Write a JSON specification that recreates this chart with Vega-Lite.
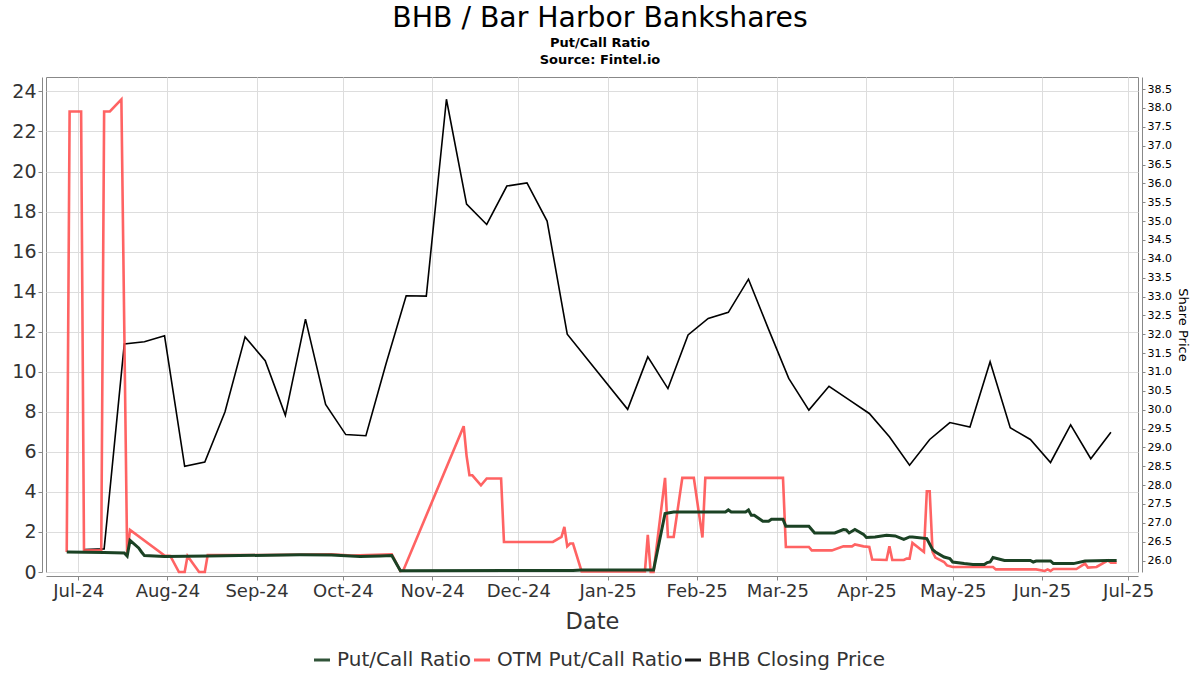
{
  "$schema": "https://vega.github.io/schema/vega-lite/v6.json",
  "width": 1092,
  "height": 495,
  "autosize": {"type": "none"},
  "padding": {"left": 46, "top": 77, "right": 62, "bottom": 103},
  "title": {
    "text": "BHB / Bar Harbor Bankshares",
    "subtitle": ["Put/Call Ratio", "Source: Fintel.io"],
    "fontSize": 28.3,
    "fontWeight": "normal",
    "color": "#000000",
    "subtitleFontSize": 13,
    "subtitleFontWeight": "bold",
    "subtitleColor": "#000000",
    "subtitleLineHeight": 16.5,
    "subtitlePadding": 4,
    "anchor": "middle",
    "dx": 8,
    "offset": 9
  },
  "datasets": {
    "price": [
      {"d": "2024-07-03", "v": 26.29}, {"d": "2024-07-10", "v": 26.31},
      {"d": "2024-07-17", "v": 31.74}, {"d": "2024-07-24", "v": 31.80},
      {"d": "2024-07-31", "v": 31.96}, {"d": "2024-08-07", "v": 28.50},
      {"d": "2024-08-14", "v": 28.61}, {"d": "2024-08-21", "v": 29.94},
      {"d": "2024-08-28", "v": 31.93}, {"d": "2024-09-04", "v": 31.30},
      {"d": "2024-09-11", "v": 29.85}, {"d": "2024-09-18", "v": 32.40},
      {"d": "2024-09-25", "v": 30.14}, {"d": "2024-10-02", "v": 29.34},
      {"d": "2024-10-09", "v": 29.31}, {"d": "2024-10-16", "v": 31.22},
      {"d": "2024-10-23", "v": 33.02}, {"d": "2024-10-30", "v": 33.01},
      {"d": "2024-11-06", "v": 38.23}, {"d": "2024-11-13", "v": 35.45},
      {"d": "2024-11-20", "v": 34.91}, {"d": "2024-11-27", "v": 35.93},
      {"d": "2024-12-04", "v": 36.01}, {"d": "2024-12-11", "v": 35.00},
      {"d": "2024-12-18", "v": 32.00}, {"d": "2025-01-08", "v": 30.01},
      {"d": "2025-01-15", "v": 31.40}, {"d": "2025-01-22", "v": 30.56},
      {"d": "2025-01-29", "v": 31.98}, {"d": "2025-02-05", "v": 32.42},
      {"d": "2025-02-12", "v": 32.58}, {"d": "2025-02-19", "v": 33.46},
      {"d": "2025-02-26", "v": 32.13}, {"d": "2025-03-05", "v": 30.83},
      {"d": "2025-03-12", "v": 29.99}, {"d": "2025-03-19", "v": 30.62},
      {"d": "2025-03-26", "v": 30.26}, {"d": "2025-04-02", "v": 29.90},
      {"d": "2025-04-09", "v": 29.28}, {"d": "2025-04-16", "v": 28.53},
      {"d": "2025-04-23", "v": 29.21}, {"d": "2025-04-30", "v": 29.66},
      {"d": "2025-05-07", "v": 29.54}, {"d": "2025-05-14", "v": 31.27},
      {"d": "2025-05-21", "v": 29.52}, {"d": "2025-05-28", "v": 29.21},
      {"d": "2025-06-04", "v": 28.60}, {"d": "2025-06-11", "v": 29.60},
      {"d": "2025-06-18", "v": 28.70}, {"d": "2025-06-25", "v": 29.40}
    ],
    "otm": [
      {"d": "2024-06-27", "v": 1.0}, {"d": "2024-06-28", "v": 23.0},
      {"d": "2024-07-01", "v": 23.0}, {"d": "2024-07-02", "v": 23.0},
      {"d": "2024-07-03", "v": 1.08}, {"d": "2024-07-05", "v": 1.08},
      {"d": "2024-07-08", "v": 1.08}, {"d": "2024-07-09", "v": 1.08},
      {"d": "2024-07-10", "v": 23.0}, {"d": "2024-07-11", "v": 23.0},
      {"d": "2024-07-12", "v": 23.0}, {"d": "2024-07-15", "v": 23.45},
      {"d": "2024-07-16", "v": 23.6}, {"d": "2024-07-18", "v": 0.85},
      {"d": "2024-07-19", "v": 2.1}, {"d": "2024-07-31", "v": 0.82},
      {"d": "2024-08-02", "v": 0.8}, {"d": "2024-08-05", "v": 0.0},
      {"d": "2024-08-07", "v": 0.0}, {"d": "2024-08-08", "v": 0.8},
      {"d": "2024-08-12", "v": 0.0}, {"d": "2024-08-14", "v": 0.0},
      {"d": "2024-08-15", "v": 0.85}, {"d": "2024-09-03", "v": 0.85},
      {"d": "2024-09-27", "v": 0.88}, {"d": "2024-10-04", "v": 0.82},
      {"d": "2024-10-18", "v": 0.88}, {"d": "2024-10-21", "v": 0.05},
      {"d": "2024-10-22", "v": 0.08}, {"d": "2024-11-12", "v": 7.28},
      {"d": "2024-11-13", "v": 5.8}, {"d": "2024-11-14", "v": 4.83},
      {"d": "2024-11-15", "v": 4.83}, {"d": "2024-11-18", "v": 4.33},
      {"d": "2024-11-20", "v": 4.67}, {"d": "2024-11-25", "v": 4.67},
      {"d": "2024-11-26", "v": 1.5}, {"d": "2024-12-13", "v": 1.5},
      {"d": "2024-12-16", "v": 1.75}, {"d": "2024-12-17", "v": 2.25},
      {"d": "2024-12-18", "v": 1.28}, {"d": "2024-12-19", "v": 1.42},
      {"d": "2024-12-20", "v": 1.42}, {"d": "2024-12-23", "v": 0.03},
      {"d": "2025-01-14", "v": 0.03}, {"d": "2025-01-15", "v": 1.85},
      {"d": "2025-01-16", "v": 0.0}, {"d": "2025-01-17", "v": 0.0},
      {"d": "2025-01-21", "v": 4.7}, {"d": "2025-01-22", "v": 1.75},
      {"d": "2025-01-24", "v": 1.75}, {"d": "2025-01-27", "v": 4.7},
      {"d": "2025-01-31", "v": 4.7}, {"d": "2025-02-03", "v": 1.72},
      {"d": "2025-02-04", "v": 4.7}, {"d": "2025-03-03", "v": 4.7},
      {"d": "2025-03-04", "v": 1.25}, {"d": "2025-03-12", "v": 1.25},
      {"d": "2025-03-13", "v": 1.08}, {"d": "2025-03-20", "v": 1.08},
      {"d": "2025-03-24", "v": 1.28}, {"d": "2025-03-27", "v": 1.28},
      {"d": "2025-03-28", "v": 1.38}, {"d": "2025-03-31", "v": 1.28},
      {"d": "2025-04-02", "v": 1.25}, {"d": "2025-04-03", "v": 0.62},
      {"d": "2025-04-08", "v": 0.6}, {"d": "2025-04-09", "v": 1.28},
      {"d": "2025-04-10", "v": 0.6}, {"d": "2025-04-14", "v": 0.6},
      {"d": "2025-04-15", "v": 0.67}, {"d": "2025-04-16", "v": 0.67},
      {"d": "2025-04-17", "v": 1.45}, {"d": "2025-04-21", "v": 1.0},
      {"d": "2025-04-22", "v": 4.03}, {"d": "2025-04-23", "v": 4.03},
      {"d": "2025-04-24", "v": 1.0}, {"d": "2025-04-25", "v": 0.72},
      {"d": "2025-04-28", "v": 0.5}, {"d": "2025-04-29", "v": 0.33},
      {"d": "2025-05-01", "v": 0.25}, {"d": "2025-05-15", "v": 0.25},
      {"d": "2025-05-16", "v": 0.13}, {"d": "2025-05-30", "v": 0.13},
      {"d": "2025-06-02", "v": 0.05}, {"d": "2025-06-03", "v": 0.13},
      {"d": "2025-06-04", "v": 0.05}, {"d": "2025-06-05", "v": 0.15},
      {"d": "2025-06-13", "v": 0.15}, {"d": "2025-06-16", "v": 0.42},
      {"d": "2025-06-17", "v": 0.22}, {"d": "2025-06-20", "v": 0.25},
      {"d": "2025-06-24", "v": 0.58}, {"d": "2025-06-25", "v": 0.47},
      {"d": "2025-06-27", "v": 0.47}
    ],
    "pc": [
      {"d": "2024-06-27", "v": 1.0}, {"d": "2024-07-10", "v": 0.97},
      {"d": "2024-07-17", "v": 0.95}, {"d": "2024-07-18", "v": 0.8},
      {"d": "2024-07-19", "v": 1.58}, {"d": "2024-07-22", "v": 1.2},
      {"d": "2024-07-23", "v": 1.0}, {"d": "2024-07-24", "v": 0.82},
      {"d": "2024-07-31", "v": 0.78}, {"d": "2024-08-15", "v": 0.8},
      {"d": "2024-08-26", "v": 0.82}, {"d": "2024-09-16", "v": 0.86},
      {"d": "2024-09-27", "v": 0.85}, {"d": "2024-10-07", "v": 0.78},
      {"d": "2024-10-14", "v": 0.8}, {"d": "2024-10-18", "v": 0.82},
      {"d": "2024-10-21", "v": 0.06}, {"d": "2024-12-20", "v": 0.08},
      {"d": "2024-12-23", "v": 0.1}, {"d": "2025-01-17", "v": 0.1},
      {"d": "2025-01-21", "v": 2.92}, {"d": "2025-01-22", "v": 2.95},
      {"d": "2025-01-24", "v": 3.0}, {"d": "2025-02-11", "v": 3.0},
      {"d": "2025-02-12", "v": 3.1}, {"d": "2025-02-13", "v": 3.0},
      {"d": "2025-02-18", "v": 3.0}, {"d": "2025-02-19", "v": 3.1},
      {"d": "2025-02-20", "v": 2.83}, {"d": "2025-02-21", "v": 2.83},
      {"d": "2025-02-24", "v": 2.53}, {"d": "2025-02-26", "v": 2.53},
      {"d": "2025-02-27", "v": 2.63}, {"d": "2025-03-03", "v": 2.63},
      {"d": "2025-03-04", "v": 2.28}, {"d": "2025-03-12", "v": 2.28},
      {"d": "2025-03-14", "v": 1.95}, {"d": "2025-03-21", "v": 1.95},
      {"d": "2025-03-24", "v": 2.12}, {"d": "2025-03-25", "v": 2.1},
      {"d": "2025-03-26", "v": 1.95}, {"d": "2025-03-28", "v": 2.12},
      {"d": "2025-03-31", "v": 1.88}, {"d": "2025-04-01", "v": 1.72},
      {"d": "2025-04-04", "v": 1.75}, {"d": "2025-04-08", "v": 1.83},
      {"d": "2025-04-11", "v": 1.8}, {"d": "2025-04-14", "v": 1.63},
      {"d": "2025-04-16", "v": 1.75}, {"d": "2025-04-17", "v": 1.75},
      {"d": "2025-04-22", "v": 1.67}, {"d": "2025-04-24", "v": 1.12},
      {"d": "2025-04-25", "v": 1.0}, {"d": "2025-04-28", "v": 0.75},
      {"d": "2025-04-30", "v": 0.67}, {"d": "2025-05-01", "v": 0.5},
      {"d": "2025-05-05", "v": 0.42}, {"d": "2025-05-08", "v": 0.37},
      {"d": "2025-05-12", "v": 0.37}, {"d": "2025-05-13", "v": 0.47},
      {"d": "2025-05-14", "v": 0.5}, {"d": "2025-05-15", "v": 0.72},
      {"d": "2025-05-19", "v": 0.58}, {"d": "2025-05-28", "v": 0.58},
      {"d": "2025-05-29", "v": 0.5}, {"d": "2025-05-30", "v": 0.55},
      {"d": "2025-06-04", "v": 0.55}, {"d": "2025-06-05", "v": 0.42},
      {"d": "2025-06-12", "v": 0.42}, {"d": "2025-06-16", "v": 0.55},
      {"d": "2025-06-24", "v": 0.58}, {"d": "2025-06-27", "v": 0.58}
    ]
  },
  "config": {
    "font": "DejaVu Sans",
    "view": {"stroke": "#888888", "strokeWidth": 1},
    "axis": {
      "gridColor": "#dddddd",
      "domainColor": "#888888",
      "tickColor": "#888888",
      "labelColor": "#333333",
      "titleColor": "#333333",
      "titleFontWeight": "normal"
    }
  },
  "layer": [
    {
      "data": {"name": "price"},
      "mark": {"type": "line", "strokeWidth": 1.6},
      "encoding": {
        "x": {
          "field": "d",
          "type": "temporal",
          "scale": {
            "type": "utc",
            "domain": [
              {"year": 2024, "month": 6, "date": 19, "hours": 19, "utc": true},
              {"year": 2025, "month": 7, "date": 4, "hours": 10, "utc": true}
            ]
          },
          "axis": {
            "title": "Date",
            "titleFontSize": 22.5,
            "titlePadding": 10,
            "labelFontSize": 18,
            "format": "%b-%y",
            "tickCount": {"interval": "month", "step": 1},
            "labelOverlap": false,
            "labelFlush": false,
            "offset": 4,
            "tickSize": 4,
            "grid": true
          }
        },
        "y": {
          "field": "v",
          "type": "quantitative",
          "scale": {"domain": [25.697, 38.82], "zero": false, "nice": false},
          "axis": {
            "orient": "right",
            "title": "Share Price",
            "titleFontSize": 13,
            "titleColor": "#000000",
            "labelColor": "#000000",
            "labelFontSize": 11,
            "values": [26, 26.5, 27, 27.5, 28, 28.5, 29, 29.5, 30, 30.5, 31, 31.5, 32, 32.5, 33, 33.5, 34, 34.5, 35, 35.5, 36, 36.5, 37, 37.5, 38, 38.5],
            "format": ".1f",
            "grid": false,
            "offset": 4,
            "tickSize": 3,
            "labelPadding": 2
          }
        },
        "color": {
          "datum": "BHB Closing Price",
          "scale": {
            "domain": ["Put/Call Ratio", "OTM Put/Call Ratio", "BHB Closing Price"],
            "range": ["#1b4224", "#ff5252", "#000000"]
          },
          "legend": {
            "title": null,
            "orient": "none",
            "direction": "horizontal",
            "legendX": 266,
            "legendY": 573,
            "symbolType": "stroke",
            "symbolStrokeWidth": 3,
            "symbolSize": 256,
            "labelFontSize": 20,
            "labelLimit": 0,
            "labelColor": "#333333",
            "columnPadding": -4,
            "labelOffset": 5
          }
        }
      }
    },
    {
      "encoding": {
        "x": {"field": "d", "type": "temporal"},
        "y": {
          "field": "v",
          "type": "quantitative",
          "scale": {"domain": [0, 24.72], "nice": false},
          "axis": {
            "orient": "left",
            "title": null,
            "labelFontSize": 19,
            "values": [0, 2, 4, 6, 8, 10, 12, 14, 16, 18, 20, 22, 24],
            "grid": true,
            "offset": 4,
            "tickSize": 4
          }
        }
      },
      "layer": [
        {
          "data": {"name": "otm"},
          "mark": {"type": "line", "strokeWidth": 2.6, "opacity": 0.9},
          "encoding": {"color": {"datum": "OTM Put/Call Ratio"}}
        },
        {
          "data": {"name": "pc"},
          "mark": {"type": "line", "strokeWidth": 3},
          "encoding": {"color": {"datum": "Put/Call Ratio"}}
        }
      ]
    }
  ],
  "resolve": {"scale": {"y": "independent"}}
}
